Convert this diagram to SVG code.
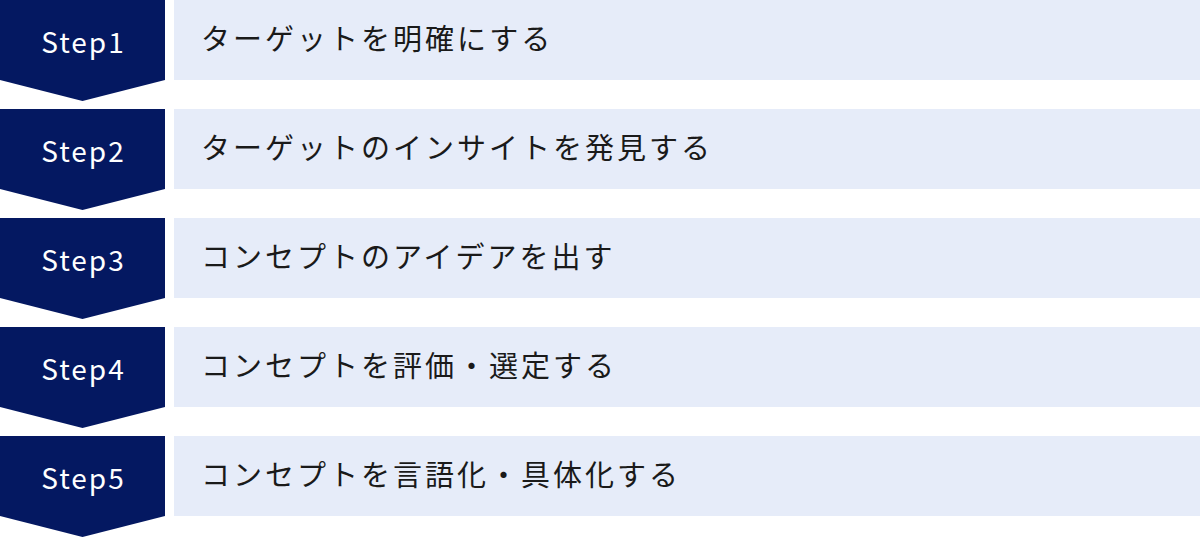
<svg xmlns="http://www.w3.org/2000/svg" width="1200" height="538" viewBox="0 0 1200 538">
<defs>
<style>
.badge{fill:#041861}
.bar{fill:#e6ecf9}
.lbl{font-family:"Noto Sans CJK JP","Noto Sans",sans-serif;font-size:28px;fill:#ffffff;letter-spacing:2px;text-anchor:middle}
.txt{font-family:"Noto Sans CJK JP","Noto Sans",sans-serif;font-size:29px;fill:#1a1a1a;letter-spacing:3px}
</style>
<path id="chev" d="M0 0H165V80L82.5 101L0 80Z"/>
</defs>
<rect width="1200" height="538" fill="#ffffff"/>
<g id="connectors"></g>
<g id="step1" transform="translate(0,0)">
<use href="#chev" class="badge"/>
<rect class="bar" x="174" y="0" width="1026" height="80"/>
<text class="lbl" x="83.5" y="53">Step1</text>
<text class="txt" x="201" y="50">ターゲットを明確にする</text>
</g>
<g id="step2" transform="translate(0,109)">
<use href="#chev" class="badge"/>
<rect class="bar" x="174" y="0" width="1026" height="80"/>
<text class="lbl" x="83.5" y="53">Step2</text>
<text class="txt" x="201" y="50">ターゲットのインサイトを発見する</text>
</g>
<g id="step3" transform="translate(0,218)">
<use href="#chev" class="badge"/>
<rect class="bar" x="174" y="0" width="1026" height="80"/>
<text class="lbl" x="83.5" y="53">Step3</text>
<text class="txt" x="201" y="50">コンセプトのアイデアを出す</text>
</g>
<g id="step4" transform="translate(0,327)">
<use href="#chev" class="badge"/>
<rect class="bar" x="174" y="0" width="1026" height="80"/>
<text class="lbl" x="83.5" y="53">Step4</text>
<text class="txt" x="201" y="50">コンセプトを評価・選定する</text>
</g>
<g id="step5" transform="translate(0,436)">
<use href="#chev" class="badge"/>
<rect class="bar" x="174" y="0" width="1026" height="80"/>
<text class="lbl" x="83.5" y="53">Step5</text>
<text class="txt" x="201" y="50">コンセプトを言語化・具体化する</text>
</g>
</svg>
